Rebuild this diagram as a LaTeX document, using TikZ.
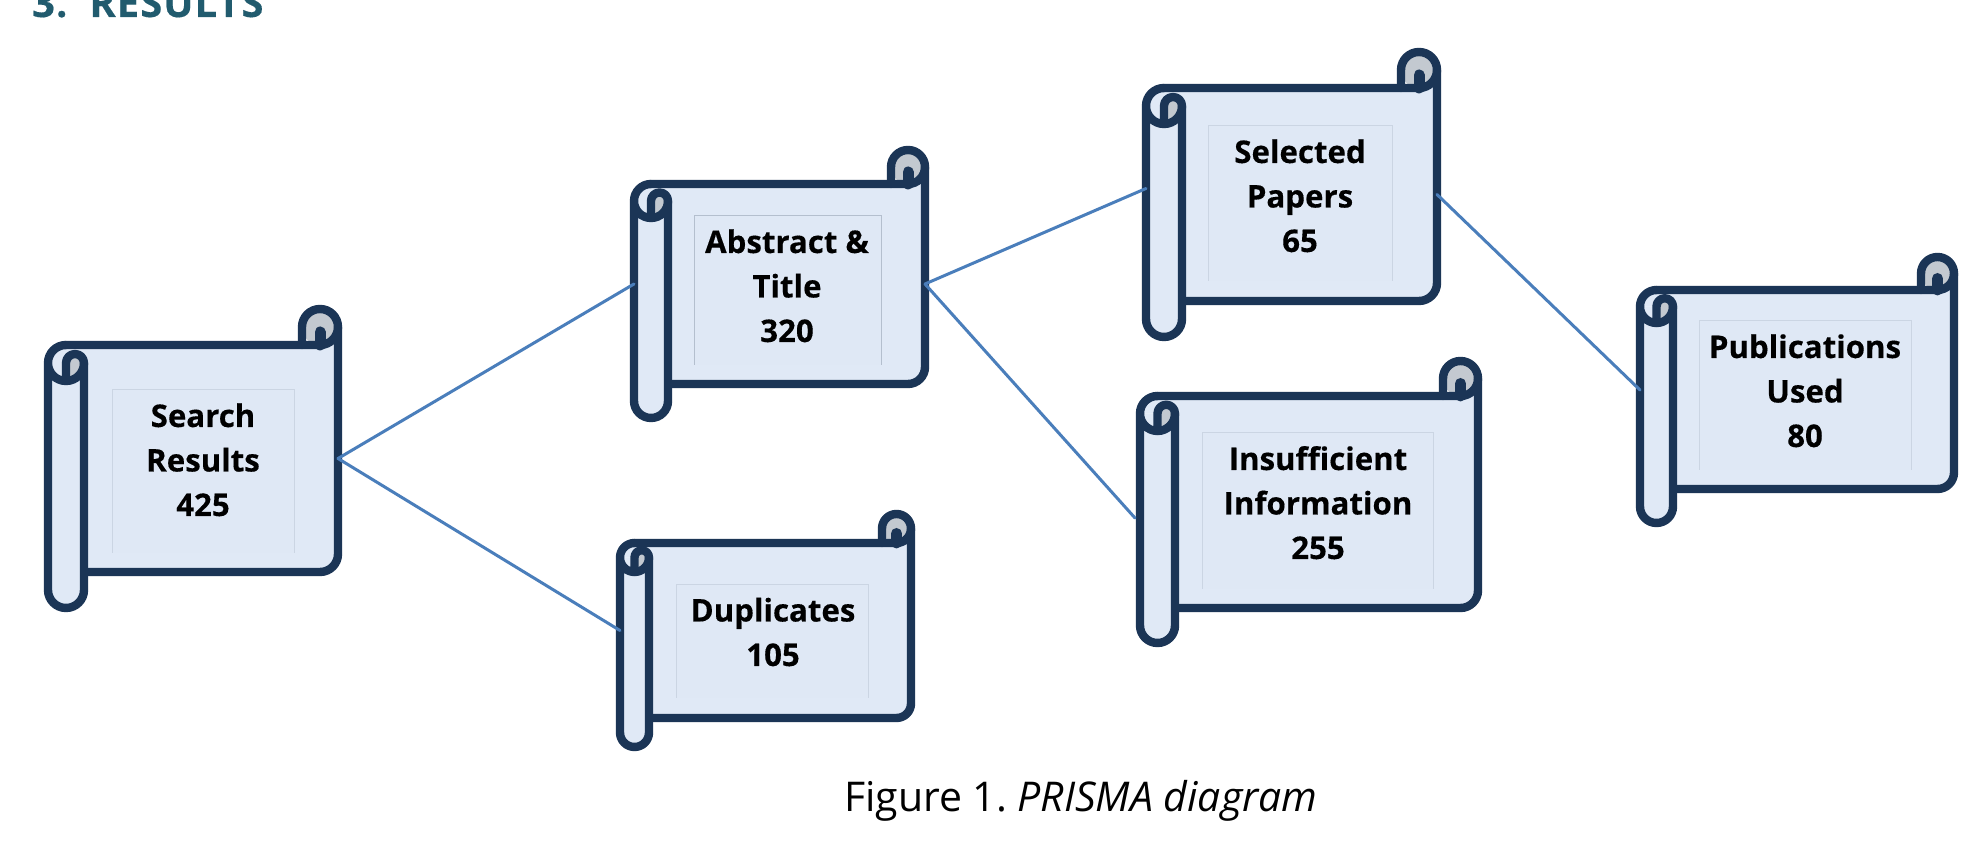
\documentclass[tikz,border=0pt]{standalone}
\usepackage{fontspec}
\setmainfont{Open Sans}
\newfontfamily\labelfont[FakeBold=0.35,BoldFont={Open Sans Bold}]{Open Sans Bold}
\usetikzlibrary{calc}
\definecolor{inkdark}{HTML}{1B3556}
\definecolor{sheetfill}{HTML}{E0E9F6}
\definecolor{curlgray}{HTML}{C3C9D0}
\definecolor{framefill}{HTML}{DFE8F5}
\definecolor{frameline}{HTML}{CBD5E3}
\definecolor{framedark}{HTML}{B4BFCE}
\definecolor{linkblue}{HTML}{4A7EBB}
\definecolor{headteal}{HTML}{215B6E}
\tikzset{
  x=1pt,y=1pt,
  scrollink/.style={draw=inkdark,line width=8.4pt,line join=round,line cap=round},
  scrollhit/.style={inner sep=0pt,outer sep=0pt,rectangle},
  scrolltext/.style={anchor=base,align=center,text=black,inner sep=0pt,
    font=\fontsize{31.2}{44.5}\selectfont\labelfont},
  linkline/.style={draw=linkblue,line width=3pt,line cap=round},
}
\newcommand{\scrollart}[7]{%
  \pgfmathsetmacro\xA{#2+4}\pgfmathsetmacro\xB{#3-4}%
  \pgfmathsetmacro\xM{(\xA+\xB)/2}\pgfmathsetmacro\rA{(\xB-\xA)/2}\pgfmathsetmacro\rB{\rA/2}%
  \pgfmathsetmacro\yT{858-#4-4}\pgfmathsetmacro\xR{#5-4}\pgfmathsetmacro\xC{\xR-\rA}%
  \pgfmathsetmacro\yB{858-#6+4}\pgfmathsetmacro\yE{858-#7+4}%
  \pgfmathsetmacro\yC{\yT-\rA}\pgfmathsetmacro\yD{\yT-2*\rA}\pgfmathsetmacro\yU{\yT+\rA}\pgfmathsetmacro\yV{\yT+2*\rA}%
  \pgfmathsetmacro\yS{\yU-5}\pgfmathsetmacro\yRb{\yE+\rA}\pgfmathsetmacro\yCb{\yB+\rA}\pgfmathsetmacro\xL{\xC-\rA}%
  \fill[sheetfill] (\xA,\yC) arc[start angle=180,end angle=90,radius=\rA] -- (\xC,\yT) arc[start angle=-90,end angle=0,radius=\rA] -- (\xR,\yCb) arc[start angle=0,end angle=-90,radius=\rA] -- (\xB,\yB) -- (\xB,\yC) -- cycle;
  \fill[curlgray] (\xC,\yU) circle[radius=\rA];
  \draw[scrollink] (\xL,\yT) -- (\xL,\yU) arc[start angle=180,end angle=0,radius=\rA] -- (\xR,\yCb) arc[start angle=0,end angle=-90,radius=\rA] -- (\xB,\yB);
  \draw[scrollink] (\xM,\yT) -- (\xC,\yT) arc[start angle=-90,end angle=0,radius=\rA];
  \draw[scrollink,line width=11pt] (\xC,\yT) -- (\xC,\yS);
  \fill[sheetfill] (\xA,\yC) -- (\xA,\yRb) arc[start angle=180,end angle=360,radius=\rA] -- (\xB,\yC) -- cycle;
  \fill[curlgray] (\xM,\yC) arc[start angle=180,end angle=0,radius=\rB] arc[start angle=0,end angle=-90,radius=\rA] -- cycle;
  \draw[scrollink] (\xA,\yC) -- (\xA,\yRb) arc[start angle=180,end angle=360,radius=\rA] -- (\xB,\yC) arc[start angle=0,end angle=180,radius=\rB] -- (\xM,\yD) arc[start angle=270,end angle=90,radius=\rA];
  \draw[scrollink] (\xM,\yD) arc[start angle=-90,end angle=0,radius=\rA];
  \pgfmathsetmacro\nW{\xR-\xA}\pgfmathsetmacro\nH{\yV-\yE}%
  \pgfmathsetmacro\nX{(\xR+\xA)/2}\pgfmathsetmacro\nY{(\yV+\yE)/2}%
  \node[scrollhit,minimum width=\nW pt,minimum height=\nH pt] (#1) at (\nX,\nY) {};
}
% frame: x0 x1 ytop ybot, colour of frame line
\newcommand{\frameart}[5]{%
  \fill[framefill] (#1,{858-#3}) rectangle (#2,{858-#4});
  \draw[#5,line width=1pt] (#1,{858-#4}) -- (#1,{858-#3}) -- (#2,{858-#3}) -- (#2,{858-#4});
}
\begin{document}
\begin{tikzpicture}
\useasboundingbox (0,0) rectangle (1984,858);
\fill[white] (0,0) rectangle (1984,858);
\scrollart{search}{44}{88}{341}{342}{576}{612}
\scrollart{abstract}{630}{672}{180}{929}{388}{422}
\scrollart{duplicates}{616}{653}{539}{915}{722}{751}
\scrollart{selected}{1142}{1186}{84}{1441}{305}{341}
\scrollart{insufficient}{1136}{1179}{392}{1482}{612}{647}
\scrollart{publications}{1636}{1677}{286}{1958}{493}{527}
\frameart{112}{294}{390}{553}{frameline}
\frameart{694}{881}{216}{365}{framedark}
\frameart{676}{868}{585}{698}{frameline}
\frameart{1208}{1392}{126}{281}{frameline}
\frameart{1202}{1433}{433}{589}{frameline}
\frameart{1699}{1911}{321}{470}{frameline}
\node[scrolltext] (search-text) at (203,{858-516}) {Search\\Results\\425};
\node[scrolltext] (abstract-text) at (787,{858-342}) {Abstract \&\\Title\\320};
\node[scrolltext] (duplicates-text) at (773,{858-666}) {Duplicates\\105};
\node[scrolltext] (selected-text) at (1300,{858-252}) {Selected\\Papers\\65};
\node[scrolltext] (insufficient-text) at (1318,{858-559}) {Insufficient\\Information\\255};
\node[scrolltext] (publications-text) at (1805,{858-447}) {Publications\\Used\\80};
\draw[linkline] (search.east) -- (abstract.west);
\draw[linkline] (search.east) -- (duplicates.west);
\draw[linkline] (abstract.east) -- ([yshift=6pt]selected.west);
\draw[linkline] (abstract.east) -- ([xshift=-5pt,yshift=-16pt]insufficient.west);
\draw[linkline] (selected.east) -- (publications.west);
\node[anchor=base west,inner sep=0pt,text=headteal,font=\fontsize{40}{48}\selectfont\labelfont] (heading) at (32,{858-17}) {\addfontfeature{LetterSpace=2.5}3.\hspace{0.55em}RESULTS};
\node[anchor=base west,inner sep=0pt,text=black,font=\fontsize{41}{48}\selectfont] (caption) at (844,{858-812}) {Figure 1.\hspace{0.25em}\textit{PRISMA diagram}};
\end{tikzpicture}
\end{document}
